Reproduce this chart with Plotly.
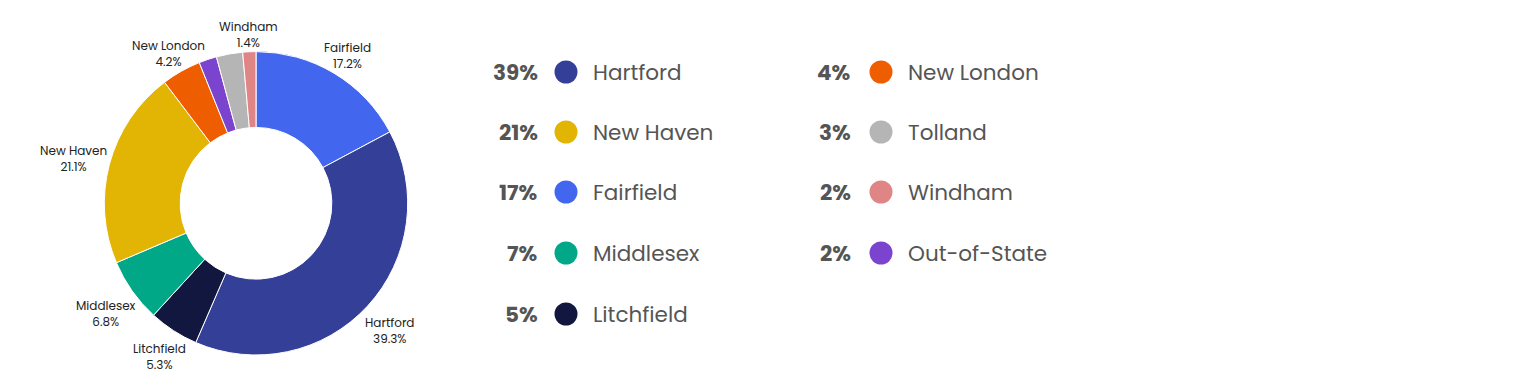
import math
import plotly.graph_objects as go

# ---- data ----
counties = ["Fairfield", "Hartford", "Litchfield", "Middlesex", "New Haven",
            "New London", "Out-of-State", "Tolland", "Windham"]
shares = [17.2, 39.3, 5.3, 6.8, 21.1, 4.2, 1.9, 2.8, 1.4]
colors = ["#4366EF", "#343F98", "#12173F", "#00A887", "#E2B505",
          "#EE5E00", "#7B44CF", "#B5B5B5", "#E08585"]
show_label = [True, True, True, True, True, True, False, False, True]

legend_col1 = ["Hartford", "New Haven", "Fairfield", "Middlesex", "Litchfield"]
legend_col1_pct = ["39%", "21%", "17%", "7%", "5%"]
legend_col2 = ["New London", "Tolland", "Windham", "Out-of-State"]
legend_col2_pct = ["4%", "3%", "2%", "2%"]

W, H = 1536, 390
FONT = "Poppins, Inter, Open Sans, sans-serif"
TXT = "#555555"
LBL_SIZE = 12

fig = go.Figure()

cx, cy, r = 256, 203.3, 151.7
fig.add_trace(go.Pie(
    labels=counties, values=shares, sort=False, direction="clockwise",
    rotation=0, hole=0.5,
    marker=dict(colors=colors, line=dict(color="white", width=1)),
    textinfo="none",
    showlegend=False, hoverinfo="label+percent",
    domain=dict(x=[(cx - r) / W, (cx + r) / W],
                y=[(H - cy - r) / H, (H - cy + r) / H]),
))

# outside labels placed along each slice's mid-angle
total = sum(shares)
cum = 0.0
for name, v, show in zip(counties, shares, show_label):
    mid = (cum + v / 2) / total * 2 * math.pi
    cum += v
    if not show:
        continue
    ux, uy = math.sin(mid), -math.cos(mid)
    dist = r + 21 + 17 * ux * ux
    x = cx + dist * ux
    y = cy + dist * uy + 4
    fig.add_annotation(x=x, y=y, xref="x", yref="y",
                       text="%s<br>%.1f%%" % (name, v), showarrow=False,
                       xanchor="center", yanchor="middle", align="center",
                       font=dict(family=FONT, size=LBL_SIZE, color="#222222"))

# custom legend
name_to_color = dict(zip(counties, colors))
row_y = [72, 132, 192, 253, 314]
cols = [
    (legend_col1, legend_col1_pct, 540, 566, 591),
    (legend_col2, legend_col2_pct, 853, 881, 906),
]
mx, my, mc = [], [], []
for names, pcts, px, dotx, nx in cols:
    for i, (n, p) in enumerate(zip(names, pcts)):
        y = row_y[i]
        mx.append(dotx); my.append(y); mc.append(name_to_color[n])
        fig.add_annotation(x=px, y=y, xref="x", yref="y", text="<b>%s</b>" % p,
                           showarrow=False, xanchor="right", yanchor="middle",
                           font=dict(family=FONT, size=21.5, color=TXT))
        fig.add_annotation(x=nx, y=y, xref="x", yref="y", text=n,
                           showarrow=False, xanchor="left", yanchor="middle",
                           font=dict(family=FONT, size=21.5, color=TXT))

fig.add_trace(go.Scatter(x=mx, y=my, mode="markers", showlegend=False,
                         hoverinfo="skip",
                         marker=dict(size=23, color=mc, line=dict(width=0))))

fig.update_layout(
    width=W, height=H, margin=dict(l=0, r=0, t=0, b=0),
    paper_bgcolor="white", plot_bgcolor="rgba(0,0,0,0)",
    xaxis=dict(range=[0, W], visible=False, fixedrange=True, domain=[0, 1]),
    yaxis=dict(range=[H, 0], visible=False, fixedrange=True, domain=[0, 1]),
    font=dict(family=FONT),
)

fig.write_html("out.html")
